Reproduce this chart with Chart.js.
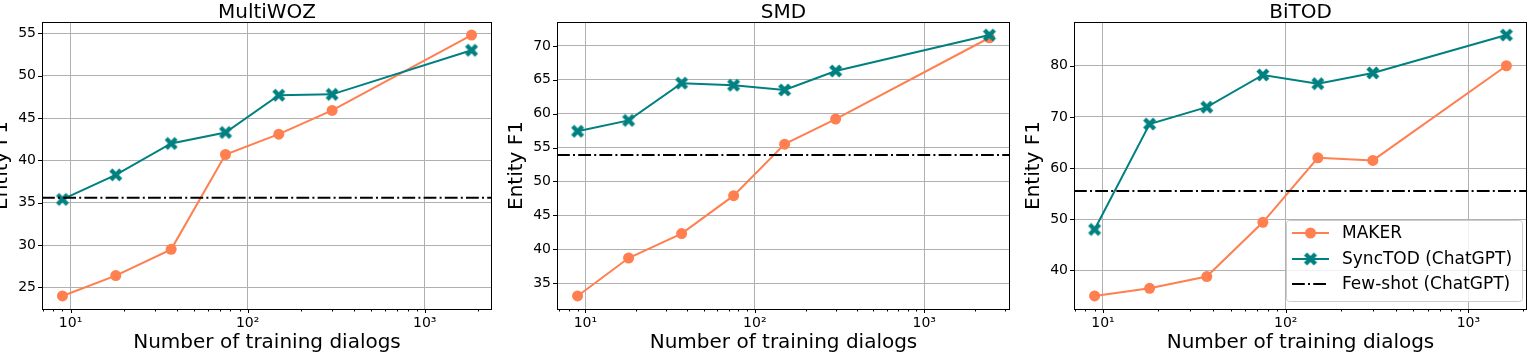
<!DOCTYPE html>
<html>
<head>
<meta charset="utf-8">
<script src="https://cdn.jsdelivr.net/npm/chart.js@4"></script>
<style>
  body { margin: 0; background: #fff; width: 1535px; height: 355px; overflow: hidden; position: relative; }
  .panel { position: absolute; top: 0; height: 355px; }
</style>
</head>
<body>
<div class="panel" style="left:-10px"><canvas id="c1" width="510" height="355"></canvas></div>
<div class="panel" style="left:505px"><canvas id="c2" width="513" height="355"></canvas></div>
<div class="panel" style="left:1022px"><canvas id="c3" width="513" height="355"></canvas></div>
<script>
// series names and x tick labels
const seriesNames = ['MAKER', 'SyncTOD (ChatGPT)', 'Few-shot (ChatGPT)'];
const xTicks = [10, 100, 1000];
const xTickLabels = ['10¹', '10²', '10³'];

// MultiWOZ
const multiwozSizes = [9, 18, 37, 75, 150, 300, 1839];
const multiwozMaker = [24.0, 26.4, 29.5, 40.7, 43.1, 45.9, 54.8];
const multiwozSync = [35.4, 38.3, 42.0, 43.3, 47.7, 47.8, 53.0];
const multiwozFewShot = 35.6;
const multiwozYTicks = [25, 30, 35, 40, 45, 50, 55];

// SMD
const smdSizes = [9, 18, 37, 75, 150, 300, 2425];
const smdMaker = [33.1, 38.7, 42.3, 47.9, 55.5, 59.2, 71.2];
const smdSync = [57.4, 59.0, 64.5, 64.2, 63.5, 66.3, 71.6];
const smdFewShot = 53.9;
const smdYTicks = [35, 40, 45, 50, 55, 60, 65, 70];

// BiTOD
const bitodSizes = [9, 18, 37, 75, 150, 300, 1614];
const bitodMaker = [35.0, 36.5, 38.8, 49.4, 62.0, 61.5, 80.0];
const bitodSync = [48.0, 68.6, 71.9, 78.2, 76.5, 78.6, 86.0];
const bitodFewShot = 55.5;
const bitodYTicks = [40, 50, 60, 70, 80];

const FONT = '"DejaVu Sans", "Liberation Sans", sans-serif';
const coral = '#ff7f50';
const teal = '#008080';
Chart.defaults.font.family = FONT;
Chart.defaults.color = '#000';

// filled "X" marker like matplotlib's 'X'
function makeXMarker(color) {
  const c = document.createElement('canvas');
  c.width = 16; c.height = 16;
  const g = c.getContext('2d');
  const a = 2.2, b = 7;
  const pts = [[-a,-b],[a,-b],[a,-a],[b,-a],[b,a],[a,a],[a,b],[-a,b],[-a,a],[-b,a],[-b,-a],[-a,-a]];
  g.translate(8, 8);
  g.rotate(Math.PI / 4);
  g.beginPath();
  pts.forEach((p, i) => i ? g.lineTo(p[0], p[1]) : g.moveTo(p[0], p[1]));
  g.closePath();
  g.fillStyle = color;
  g.fill();
  return c;
}
const xMarker = makeXMarker(teal);

// title, frame, tick marks and the legend box
const decorPlugin = {
  id: 'decor',
  afterDraw(chart, args, opts) {
    const { ctx, chartArea: a, scales: { x, y } } = chart;
    ctx.save();
    ctx.strokeStyle = '#000';
    ctx.lineWidth = 1;
    ctx.beginPath();
    xTicks.forEach(v => {
      const px = Math.round(x.getPixelForValue(v)) + 0.5;
      ctx.moveTo(px, a.bottom); ctx.lineTo(px, a.bottom + 4);
    });
    const k0 = Math.floor(Math.log10(x.min)), k1 = Math.ceil(Math.log10(x.max));
    for (let k = k0; k <= k1; k++) {
      for (let m = 2; m <= 9; m++) {
        const v = m * Math.pow(10, k);
        if (v < x.min || v > x.max) continue;
        const px = Math.round(x.getPixelForValue(v)) + 0.5;
        ctx.moveTo(px, a.bottom); ctx.lineTo(px, a.bottom + 2.5);
      }
    }
    y.ticks.forEach(t => {
      const py = Math.round(y.getPixelForValue(t.value)) + 0.5;
      ctx.moveTo(a.left, py); ctx.lineTo(a.left - 4, py);
    });
    ctx.stroke();
    ctx.strokeRect(Math.round(a.left) + 0.5, Math.round(a.top) + 0.5, Math.round(a.width) - 1, Math.round(a.height));

    ctx.fillStyle = '#000';
    ctx.font = '20px ' + FONT;
    ctx.textAlign = 'center';
    ctx.textBaseline = 'alphabetic';
    ctx.fillText(opts.title, (a.left + a.right) / 2, 18);

    if (opts.legend) {
      const L = a.right - 241, R = a.right - 5, T = a.bottom - 89, B = a.bottom - 8;
      ctx.beginPath();
      ctx.roundRect(L + 0.5, T + 0.5, R - L, B - T, 3);
      ctx.fillStyle = 'rgba(255,255,255,0.8)';
      ctx.fill();
      ctx.strokeStyle = '#cccccc';
      ctx.stroke();
      const rows = [T + 13, T + 39, T + 64];
      chart.data.datasets.forEach((ds, i) => {
        const ry = rows[i];
        ctx.save();
        ctx.strokeStyle = ds.borderColor;
        ctx.lineWidth = ds.borderWidth;
        ctx.setLineDash(ds.borderDash || []);
        ctx.beginPath();
        ctx.moveTo(L + 6, ry); ctx.lineTo(L + 43, ry);
        ctx.stroke();
        ctx.restore();
        const cx = L + 24.5;
        if (ds.pointStyle === 'circle') {
          ctx.beginPath();
          ctx.arc(cx, ry, ds.pointRadius, 0, Math.PI * 2);
          ctx.fillStyle = ds.backgroundColor;
          ctx.fill();
        } else if (ds.pointStyle && ds.pointStyle.width) {
          ctx.drawImage(ds.pointStyle, cx - ds.pointStyle.width / 2, ry - ds.pointStyle.height / 2);
        }
        ctx.fillStyle = '#000';
        ctx.font = '17px ' + FONT;
        ctx.textAlign = 'left';
        ctx.textBaseline = 'middle';
        ctx.fillText(ds.label, L + 56, ry + 1);
      });
    }
    ctx.restore();
  }
};

function buildChart(id, title, sizes, maker, sync, fewShot, yTicks, rightPad, showLegend) {
  // matplotlib-style 5% margins (log space on x)
  const lo = Math.log10(sizes[0]), hi = Math.log10(sizes[sizes.length - 1]);
  const xPad = (hi - lo) * 0.05;
  const xMin = Math.pow(10, lo - xPad), xMax = Math.pow(10, hi + xPad);
  const all = maker.concat(sync);
  const yLo = Math.min(...all), yHi = Math.max(...all);
  const yPad = (yHi - yLo) * 0.05;

  return new Chart(document.getElementById(id), {
    type: 'line',
    data: {
      datasets: [
        {
          label: seriesNames[0],
          data: sizes.map((s, i) => ({ x: s, y: maker[i] })),
          borderColor: coral, backgroundColor: coral, borderWidth: 2,
          pointStyle: 'circle', pointRadius: 5.5, pointBorderWidth: 0, order: 2
        },
        {
          label: seriesNames[1],
          data: sizes.map((s, i) => ({ x: s, y: sync[i] })),
          borderColor: teal, backgroundColor: teal, borderWidth: 2,
          pointStyle: xMarker, pointRadius: 6, order: 1
        },
        {
          label: seriesNames[2],
          data: [{ x: xMin, y: fewShot }, { x: xMax, y: fewShot }],
          borderColor: '#000', borderWidth: 2, borderDash: [12.8, 3.2, 2, 3.2],
          pointRadius: 0, order: 0
        }
      ]
    },
    options: {
      responsive: false,
      animation: false,
      devicePixelRatio: 1,
      layout: { padding: { top: 22, right: rightPad, bottom: 0, left: 0 } },
      plugins: {
        legend: { display: false },
        tooltip: { enabled: false },
        decor: { title: title, legend: showLegend }
      },
      scales: {
        x: {
          type: 'logarithmic',
          min: xMin, max: xMax,
          afterBuildTicks: s => { s.ticks = xTicks.map(v => ({ value: v })); },
          afterFit: s => { s.height = 46; },
          ticks: {
            callback: v => xTickLabels[xTicks.indexOf(v)],
            font: { size: 14 }, color: '#000', padding: 6, maxRotation: 0, autoSkip: false
          },
          grid: { color: '#b0b0b0', lineWidth: 1, drawTicks: false },
          border: { display: false },
          title: { display: true, text: 'Number of training dialogs', font: { size: 20 }, color: '#000', padding: { top: 0, bottom: 0 } }
        },
        y: {
          type: 'linear',
          min: yLo - yPad, max: yHi + yPad,
          afterBuildTicks: s => { s.ticks = yTicks.map(v => ({ value: v })); },
          afterFit: s => { s.width = 52; },
          ticks: { font: { size: 14 }, color: '#000', padding: 6 },
          grid: { color: '#b0b0b0', lineWidth: 1, drawTicks: false },
          border: { display: false },
          title: { display: true, text: 'Entity F1', font: { size: 20 }, color: '#000', padding: { top: 0, bottom: 0 } }
        }
      }
    },
    plugins: [decorPlugin]
  });
}

buildChart('c1', 'MultiWOZ', multiwozSizes, multiwozMaker, multiwozSync, multiwozFewShot, multiwozYTicks, 2, false);
buildChart('c2', 'SMD', smdSizes, smdMaker, smdSync, smdFewShot, smdYTicks, 2, false);
buildChart('c3', 'BiTOD', bitodSizes, bitodMaker, bitodSync, bitodFewShot, bitodYTicks, 7, true);
</script>
</body>
</html>
